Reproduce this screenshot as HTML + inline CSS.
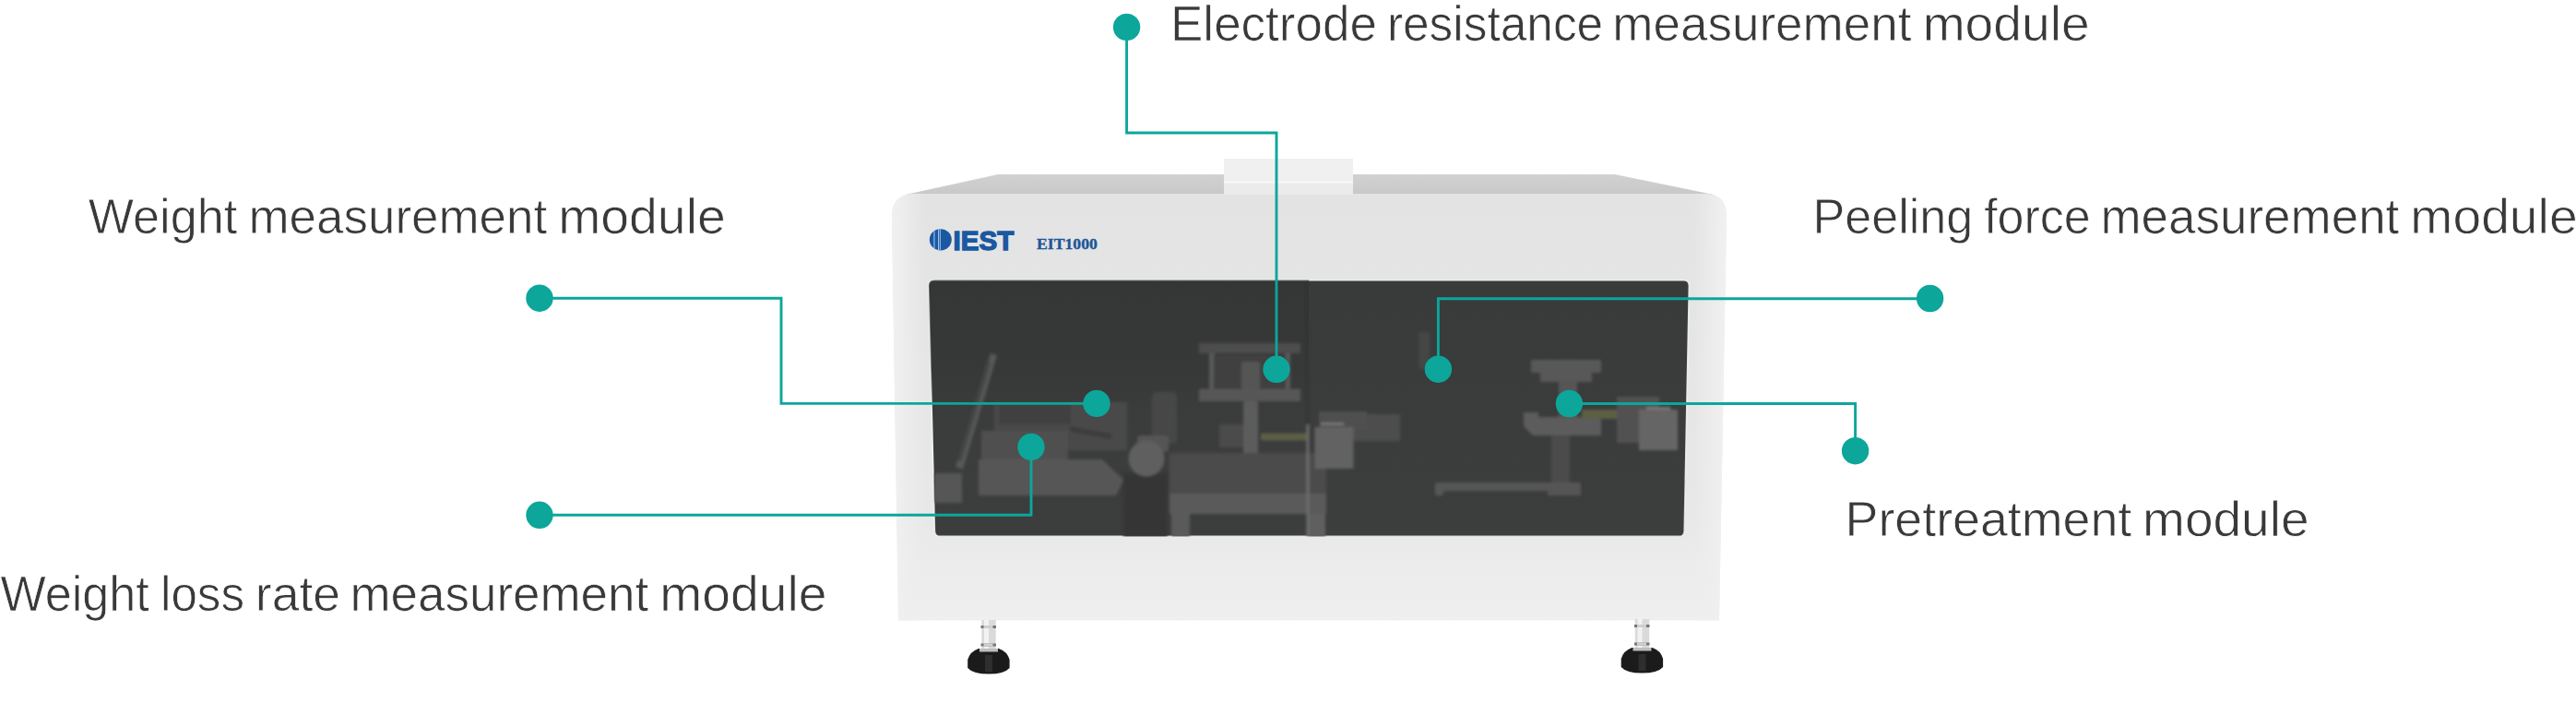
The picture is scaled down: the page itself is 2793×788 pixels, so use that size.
<!DOCTYPE html>
<html>
<head>
<meta charset="utf-8">
<title>EIT1000 modules</title>
<style>
  html, body { margin: 0; padding: 0; background: #ffffff; }
  body { width: 2793px; height: 788px; overflow: hidden; position: relative; font-family: "Liberation Sans", sans-serif; }
  svg { position: absolute; left: 0; top: 0; display: block; }
  text { font-family: "Liberation Sans", sans-serif; }
  .lbl { font-size: 54.5px; fill: #393939; stroke: #ffffff; stroke-width: 0.75px; paint-order: fill stroke; }
</style>
</head>
<body>
<svg width="2793" height="788" viewBox="0 0 2793 788">
  <defs>
    <linearGradient id="gTop" x1="0" y1="0" x2="0" y2="1">
      <stop offset="0" stop-color="#d1d1d1"/>
      <stop offset="1" stop-color="#c8c8c8"/>
    </linearGradient>
    <linearGradient id="gBody" x1="0" y1="0" x2="0" y2="1">
      <stop offset="0" stop-color="#e3e3e3"/>
      <stop offset="0.75" stop-color="#e8e8e8"/>
      <stop offset="1" stop-color="#efefef"/>
    </linearGradient>
    <linearGradient id="gEdgeL" x1="0" y1="0" x2="1" y2="0">
      <stop offset="0" stop-color="#f4f4f4"/>
      <stop offset="1" stop-color="#e6e6e6"/>
    </linearGradient>
    <linearGradient id="gWin" x1="0" y1="0" x2="0" y2="1">
      <stop offset="0" stop-color="#393a3a"/>
      <stop offset="1" stop-color="#3c3d3d"/>
    </linearGradient>
    <linearGradient id="gSide" gradientUnits="userSpaceOnUse" x1="967" y1="0" x2="1872" y2="0">
      <stop offset="0" stop-color="#f1f1f1" stop-opacity="1"/>
      <stop offset="0.012" stop-color="#efefef" stop-opacity="0.85"/>
      <stop offset="0.04" stop-color="#eeeeee" stop-opacity="0"/>
      <stop offset="0.96" stop-color="#eeeeee" stop-opacity="0"/>
      <stop offset="0.988" stop-color="#efefef" stop-opacity="0.85"/>
      <stop offset="1" stop-color="#f1f1f1" stop-opacity="1"/>
    </linearGradient>
    <linearGradient id="gDarkTop" x1="0" y1="0" x2="0" y2="1">
      <stop offset="0" stop-color="#323333" stop-opacity="0.7"/>
      <stop offset="0.7" stop-color="#343535" stop-opacity="0.5"/>
      <stop offset="1" stop-color="#343535" stop-opacity="0"/>
    </linearGradient>
    <filter id="soft" x="-2%" y="-5%" width="104%" height="110%"><feGaussianBlur stdDeviation="1.4"/></filter>
    <clipPath id="cGlobe"><ellipse cx="1019.8" cy="259.8" rx="12" ry="11.6"/></clipPath>
    <clipPath id="cWin"><path d="M1013 303.6 H1825.4 Q1831.4 303.6 1831.4 309.6 L1826.2 575.4 Q1826.1 581.4 1820.1 581.4 H1019.5 Q1013.5 581.4 1013.4 575.4 L1006.9 309.6 Q1006.9 303.6 1013 303.6 Z"/></clipPath>
  </defs>

  <!-- ===== machine ===== -->
  <g id="machine">
    <!-- top surface -->
    <path d="M1082 189 L1751 189 L1858 211 L982 211 Z" fill="url(#gTop)"/>
    <!-- front body -->
    <path d="M967 234 Q967 210 992 210 L1848 210 Q1872 210 1872 234 L1864 672.5 L974 672.5 Z" fill="url(#gBody)"/>
    <path d="M967 234 Q967 210 992 210 L1848 210 Q1872 210 1872 234 L1864 672.5 L974 672.5 Z" fill="url(#gSide)"/>
    <!-- top tab -->
    <rect x="1327" y="172" width="140" height="39" fill="#ebebeb"/>
    <rect x="1327" y="172" width="140" height="25" fill="#f0f0f0"/>
    <rect x="1327" y="196.5" width="140" height="2" fill="#f7f7f7"/>
    <!-- window -->
    <path id="winshape" d="M1013 303.6 H1825.4 Q1831.4 303.6 1831.4 309.6 L1826.2 575.4 Q1826.1 581.4 1820.1 581.4 H1019.5 Q1013.5 581.4 1013.4 575.4 L1006.9 309.6 Q1006.9 303.6 1013 303.6 Z" fill="url(#gWin)" stroke="#f1f1f1" stroke-width="1.6"/>
    <g id="inside" clip-path="url(#cWin)">
      <rect x="1000" y="296" width="419" height="150" fill="url(#gDarkTop)"/>
      <rect x="1419" y="296" width="420" height="294" fill="#3f4140" opacity="0.08"/>
      <rect x="1000" y="520" width="840" height="70" fill="#424443" opacity="0.12"/>
      <g filter="url(#soft)">
      <!-- tonal zones -->
      <!-- LEFT: weight / weight-loss module -->
      <path d="M1074 383 L1081 385 L1044 509 L1036 506 Z" fill="#575757"/>
      <path d="M1070 392 L1074 393 L1042 500 L1038 499 Z" fill="#444"/>
      <rect x="1013" y="513" width="30" height="32" fill="#565656"/>
      <rect x="1078" y="436" width="144" height="52" fill="#484848"/>
      <rect x="1083" y="436" width="78" height="24" fill="#3f3f3f"/>
      <rect x="1064" y="467" width="94" height="32" fill="#4f4f4f"/>
      <path d="M1061 498 H1195 L1218 520 L1210 537 H1061 Z" fill="#575757"/>
      <path d="M1160 462 L1205 470 L1205 476 L1160 468 Z" fill="#3c3c3c"/>
      <rect x="1249" y="425" width="27" height="56" rx="5" fill="#474747"/>
      <rect x="1218" y="513" width="48" height="70" fill="#353636"/>
      <rect x="1233" y="472" width="34" height="18" rx="4" fill="#555"/>
      <circle cx="1243" cy="497" r="19.5" fill="#5e5e5e"/>
      <!-- CENTRE: electrode resistance press -->
      <rect x="1300" y="372" width="110" height="11" fill="#4d4d4d"/>
      <rect x="1311" y="383" width="6" height="39" fill="#585858"/>
      <rect x="1393" y="383" width="6" height="39" fill="#585858"/>
      <rect x="1316" y="385" width="78" height="36" fill="#404040"/>
      <rect x="1346" y="392" width="20" height="30" rx="3" fill="#555"/>
      <rect x="1300" y="421.5" width="110" height="13.5" fill="#565656"/>
      <rect x="1322" y="460" width="26" height="25" fill="#4c4c4c"/>
      <rect x="1348" y="435" width="16" height="63" rx="3" fill="#5c5c5c"/>
      <rect x="1367" y="469.5" width="50" height="8" fill="#5b5f44"/>
      <rect x="1268" y="491" width="170" height="45" fill="#4b4b4b"/>
      <rect x="1268" y="535" width="170" height="22" fill="#5a5a5a"/>
      <rect x="1270" y="557" width="20" height="26" fill="#5a5a5a"/>
      <rect x="1418" y="557" width="19" height="26" fill="#5f5f5f"/>
      <!-- divider -->
      <rect x="1417" y="305" width="1.6" height="160" fill="#2f3030"/>
      <rect x="1416.5" y="460" width="3" height="122" fill="#6c6c6c"/>
      <!-- boxes right of divider -->
      <rect x="1460" y="449" width="58" height="29" fill="#4e4e4e"/>
      <rect x="1430" y="446" width="52" height="20" fill="#505050"/>
      <rect x="1425.5" y="463" width="42" height="45" fill="#626262"/>
      <rect x="1432" y="458" width="25" height="3" fill="#757575"/>
      <rect x="1538" y="360" width="12" height="40" rx="3" fill="#444645"/>
      <!-- RIGHT: peeling module -->
      <rect x="1660" y="390" width="76" height="14" rx="2" fill="#595959"/>
      <rect x="1670" y="403" width="56" height="11" fill="#595959"/>
      <rect x="1690" y="413" width="20" height="40" fill="#555"/>
      <path d="M1652 447 H1668 V452 H1722 V447 H1736 V472 H1662 L1652 462 Z" fill="#5b5b5b"/>
      <rect x="1682" y="472" width="20" height="56" fill="#4b4b4b"/>
      <rect x="1556" y="523" width="158" height="9" rx="2" fill="#565656"/>
      <rect x="1556" y="523" width="9" height="14" rx="2" fill="#565656"/>
      <rect x="1678" y="526" width="36" height="11" fill="#555"/>
      <rect x="1715" y="444" width="42" height="10" fill="#5b5f44"/>
      <rect x="1753" y="430" width="46" height="50" fill="#515151"/>
      <rect x="1777" y="444" width="42" height="44" fill="#656565"/>
      <rect x="1785" y="441" width="26" height="3" fill="#777"/>
    </g></g>
    <!-- feet -->
    <g id="feet">
      <g id="footL">
        <rect x="1064.3" y="672" width="15.4" height="31" fill="#dadada"/>
        <rect x="1067" y="672" width="5" height="31" fill="#f2f2f2"/>
        <rect x="1063.5" y="678" width="16.5" height="3" fill="#777"/>
        <rect x="1066.5" y="678" width="10" height="3" fill="#cfcfcf"/>
        <rect x="1063.5" y="697.5" width="16.5" height="3" fill="#777"/>
        <rect x="1066.5" y="697.5" width="10" height="3" fill="#cfcfcf"/>
        <path d="M1061 703 H1083 Q1092 706 1094.6 715 V724 Q1089 730.6 1072 730.6 Q1055 730.6 1049.2 724 V715 Q1052 706 1061 703 Z" fill="#1b1b1b"/>
        <rect x="1068" y="710" width="8" height="18" fill="#333" opacity="0.8"/>
        <rect x="1062" y="703" width="20" height="3.5" fill="#bdbdbd"/>
      </g>
      <use href="#footL" x="708.5" y="-1"/>
    </g>
    <!-- logo -->
    <g id="logo">
      <ellipse cx="1019.8" cy="259.8" rx="12" ry="11.6" fill="#1a58a2"/>
      <g clip-path="url(#cGlobe)">
        <rect x="1012.4" y="247" width="1.1" height="26" fill="#9cc4ee"/>
        <rect x="1017.0" y="247" width="0.9" height="26" fill="#a9cdf1"/>
        <rect x="1018.8" y="247" width="0.9" height="26" fill="#b6d6f5"/>
      </g>
      <text id="iest" transform="translate(1033.5 270.9) scale(1.035 1)" font-size="28.6" font-weight="bold" fill="#1a58a2" stroke="#1a58a2" stroke-width="1.3" stroke-linejoin="miter">IEST</text>
      <text id="eit" transform="translate(1124.0 270.4) scale(1.0 1)" font-size="17.7" font-weight="bold" fill="#1c5698" stroke="#1c5698" stroke-width="0.35" style="font-family:'Liberation Serif',serif">EIT1000</text>
    </g>
  </g>

  <!-- ===== leader lines ===== -->
  <g fill="none" stroke="#0ca69b" stroke-width="2.9" stroke-linejoin="miter">
    <path d="M1221.6 29.4 V144 H1384 V400.3"/>
    <path d="M585 323.2 H847 V437.4 H1189"/>
    <path d="M585 558.3 H1118 V484.4"/>
    <path d="M2092.6 323.7 H1559.4 V400.2"/>
    <path d="M1701.4 437.5 H2011.6 V488.7"/>
  </g>
  <g fill="#0ca69b">
    <circle cx="1221.6" cy="29.4" r="14.7"/>
    <circle cx="1384" cy="400.3" r="14.7"/>
    <circle cx="585" cy="323.2" r="14.7"/>
    <circle cx="1189" cy="437.4" r="14.7"/>
    <circle cx="585" cy="558.3" r="14.7"/>
    <circle cx="1118" cy="484.4" r="14.7"/>
    <circle cx="2092.6" cy="323.5" r="14.7"/>
    <circle cx="1559.4" cy="400.2" r="14.7"/>
    <circle cx="1701.4" cy="437.5" r="14.7"/>
    <circle cx="2011.6" cy="488.7" r="14.7"/>
  </g>

  <!-- ===== labels ===== -->
  <g class="lbl"><!-- t1 -->
    <text transform="translate(1269.02 44.0) scale(0.9727 1)">Electrode</text>
    <text transform="translate(1503.90 44.0) scale(0.9435 1)">resistance</text>
    <text transform="translate(1748.20 44.0) scale(0.9736 1)">measurement</text>
    <text transform="translate(2084.65 44.0) scale(1.0127 1)">module</text>
  </g>
  <g class="lbl"><!-- t2 -->
    <text transform="translate(95.71 253.4) scale(0.9577 1)">Weight</text>
    <text transform="translate(269.50 253.4) scale(0.9714 1)">measurement</text>
    <text transform="translate(605.24 253.4) scale(1.0156 1)">module</text>
  </g>
  <g class="lbl"><!-- t3 -->
    <text transform="translate(0.41 661.8) scale(0.9571 1)">Weight</text>
    <text transform="translate(174.03 661.8) scale(0.9387 1)">loss</text>
    <text transform="translate(276.86 661.8) scale(0.9829 1)">rate</text>
    <text transform="translate(379.40 661.8) scale(0.9721 1)">measurement</text>
    <text transform="translate(715.25 661.8) scale(1.0133 1)">module</text>
  </g>
  <g class="lbl"><!-- t4 -->
    <text transform="translate(1965.50 252.8) scale(0.9563 1)">Peeling</text>
    <text transform="translate(2151.14 252.8) scale(0.9542 1)">force</text>
    <text transform="translate(2277.50 252.8) scale(0.9721 1)">measurement</text>
    <text transform="translate(2613.35 252.8) scale(1.0145 1)">module</text>
  </g>
  <g class="lbl"><!-- t5 -->
    <text transform="translate(2000.56 581.0) scale(0.9865 1)">Pretreatment</text>
    <text transform="translate(2323.06 581.0) scale(1.0098 1)">module</text>
  </g>
</svg>
</body>
</html>
